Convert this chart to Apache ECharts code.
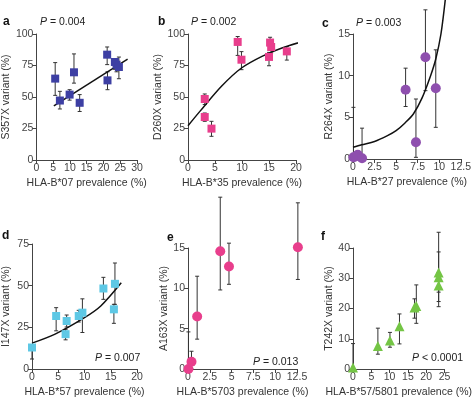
<!DOCTYPE html>
<html>
<head>
<meta charset="utf-8">
<script src="https://cdn.jsdelivr.net/npm/echarts@6/dist/echarts.min.js"></script>
<style>
  html, body { margin: 0; padding: 0; background: #fff; }
  #chart { width: 474px; height: 399px; }
</style>
</head>
<body>
<div id="chart"></div>
<script>
// panel a: S357X vs HLA-B*07
var aX = [5.6, 7.0, 9.9, 11.2, 12.9, 21.1, 21.2, 23.4, 23.9, 24.6];
var aY = [64.6, 47.2, 51.9, 69.6, 45.4, 83.6, 63.2, 77.8, 75.7, 73.8];
var aLo = [51.3, 40.5, 47.5, 61, 38.5, 75.7, 55.8, 72, 70, 64.5];
var aHi = [77.3, 54.5, 55.8, 84.2, 51.9, 89.7, 70, 79.6, 80, 81.7];
var aFitX = [5.2, 27.2];
var aFitY = [43, 80];

// panel b: D260X vs HLA-B*35
var bX = [3.1, 3.1, 4.35, 9.2, 9.9, 15.0, 15.2, 15.4, 18.3];
var bY = [48.4, 34.1, 24.9, 93.7, 79.6, 81.8, 93.2, 89.7, 86.2];
var bLo = [44, 30.7, 18.8, 83, 71.7, 74.8, 89, 85, 79.3];
var bHi = [52.4, 37.3, 30.7, 98, 86, 85.4, 97.4, 93, 90];
var bFitX = [0, 2.2, 6.2, 9.9, 13.7, 17.4, 22];
var bFitY = [27.2, 38.6, 58.5, 73, 82.3, 88.9, 95];

// panel c: R264X vs HLA-B*27
var cX = [0.05, 0.3, 0.55, 1.05, 6.1, 7.3, 8.4, 9.6];
var cY = [0.2, 0.3, 0.5, 0.1, 8.3, 2.0, 12.2, 8.5];
var cLo = [0, 0.3, 0.5, 0, 6.3, 0.2, 8.2, 3.8];
var cHi = [6.2, 0.3, 0.5, 3.7, 10.9, 7.2, 17.9, 13.1];
var cFitX = [0, 1, 2.5, 4, 5, 6, 7, 8, 9, 9.6, 10.2, 10.7];
var cFitY = [1.4, 1.7, 2.1, 2.8, 3.4, 4.3, 5.4, 7.3, 10, 12, 15, 19.1];

// panel d: I147X vs HLA-B*57
var dX = [0, 4.6, 6.4, 6.6, 8.9, 9.6, 13.6, 15.6, 15.8];
var dY = [12.9, 31.8, 20.9, 28.8, 31.8, 33.8, 48.3, 35.8, 51.1];
var dLo = [6, 22.9, 17.5, 25.2, 28.2, 21.9, 41.8, 27.4, 38.8];
var dHi = [12.9, 36.8, 23.8, 32.4, 35.2, 42.1, 55, 38.8, 63.6];
var dFitX = [0, 4.4, 10, 13.1, 17];
var dFitY = [15.5, 20.9, 30.8, 37.8, 51.7];

// panel e: A163X vs HLA-B*5703
var eX = [0.05, 0.4, 1.05, 3.7, 4.7, 12.6];
var eY = [0, 0.9, 6.5, 14.6, 12.7, 15.1];
var eLo = [0, 0, 3.7, 9.8, 10.5, 11.1];
var eHi = [4.6, 2.2, 11.5, 21.3, 15.6, 20.6];

// panel f: T242X vs HLA-B*57/5801
var fX = [0, 6.8, 10.1, 12.7, 16.8, 17.3, 23.4, 23.4, 23.4];
var fY = [0.5, 7.6, 9.4, 14.1, 20.3, 20.8, 31.9, 30.3, 27.6];
var fLo = [0, 4.9, 7.2, 8.3, 16.8, 15.1, 25.4, 22.3, 20.6];
var fHi = [8.4, 13.5, 12.1, 18.2, 23.2, 27.8, 45.2, 38.7, 31.9];

var FONT = 'Liberation Sans, Arial, Helvetica, sans-serif';

var panels = [
  {x: aX, y: aY, lo: aLo, hi: aHi, fx: aFitX, fy: aFitY, color: '#3d3fa3', symbol: 'rect', size: 8,
   grid: {left: 30, top: 34, width: 107, height: 126},
   xr: [0, 30, 5], yr: [0, 100, 25], xname: 'HLA-B*07 prevalence (%)', yname: 'S357X variant (%)', ygap: 22},
  {x: bX, y: bY, lo: bLo, hi: bHi, fx: bFitX, fy: bFitY, color: '#e83e8c', symbol: 'rect', size: 8,
   grid: {left: 188, top: 34, width: 108, height: 126},
   xr: [0, 20, 5], yr: [0, 100, 25], xname: 'HLA-B*35 prevalence (%)', yname: 'D260X variant (%)', ygap: 24},
  {x: cX, y: cY, lo: cLo, hi: cHi, fx: cFitX, fy: cFitY, color: '#8e4fae', symbol: 'circle', size: 10,
   grid: {left: 353, top: 34, width: 110, height: 125},
   xr: [0, 12.5, 2.5], yr: [0, 15, 5], xname: 'HLA-B*27 prevalence (%)', yname: 'R264X variant (%)', ygap: 13},
  {x: dX, y: dY, lo: dLo, hi: dHi, fx: dFitX, fy: dFitY, color: '#5ec8e5', symbol: 'rect', size: 8,
   grid: {left: 30, top: 244, width: 107, height: 126},
   xr: [0, 20, 5], yr: [0, 75, 25], xname: 'HLA-B*57 prevalence (%)', yname: 'I147X variant (%)', ygap: 20},
  {x: eX, y: eY, lo: eLo, hi: eHi, fx: null, fy: null, color: '#e83e8c', symbol: 'circle', size: 10,
   grid: {left: 188, top: 248, width: 109, height: 123},
   xr: [0, 12.5, 2.5], yr: [0, 15, 5], xname: 'HLA-B*5703 prevalence (%)', yname: 'A163X variant (%)', ygap: 18},
  {x: fX, y: fY, lo: fLo, hi: fHi, fx: null, fy: null, color: '#74c545', symbol: 'triangle', size: 10,
   grid: {left: 353, top: 248, width: 106, height: 124},
   xr: [0, 25, 5], yr: [0, 40, 10], xname: 'HLA-B*57/5801 prevalence (%)', yname: 'T242X variant (%)', ygap: 18}
];

function errRender(params, api) {
  var lo = api.coord([api.value(0), api.value(1)]);
  var hi = api.coord([api.value(0), api.value(2)]);
  if (Math.abs(lo[1] - hi[1]) < 0.5) return null;
  var c = 2;
  var st = {stroke: '#333', lineWidth: 1};
  return {
    type: 'group',
    children: [
      {type: 'line', shape: {x1: lo[0], y1: lo[1], x2: hi[0], y2: hi[1]}, style: st},
      {type: 'line', shape: {x1: lo[0] - c, y1: lo[1], x2: lo[0] + c, y2: lo[1]}, style: st},
      {type: 'line', shape: {x1: hi[0] - c, y1: hi[1], x2: hi[0] + c, y2: hi[1]}, style: st}
    ]
  };
}

var grids = [], xAxes = [], yAxes = [], series = [];
var axisCommon = {
  axisLine: {lineStyle: {color: '#444', width: 1}},
  axisTick: {length: 4, lineStyle: {color: '#444'}},
  axisLabel: {color: '#444', fontSize: 10.5, fontFamily: FONT, margin: 3},
  splitLine: {show: false},
  nameLocation: 'middle',
  nameTextStyle: {color: '#333', fontSize: 10.5, fontFamily: FONT}
};

panels.forEach(function (p, i) {
  grids.push(p.grid);
  xAxes.push(Object.assign({}, axisCommon, {
    type: 'value', gridIndex: i, min: p.xr[0], max: p.xr[1], interval: p.xr[2],
    name: p.xname, nameGap: 18
  }));
  yAxes.push(Object.assign({}, axisCommon, {
    type: 'value', gridIndex: i, min: p.yr[0], max: p.yr[1], interval: p.yr[2],
    name: p.yname, nameGap: p.ygap
  }));
  series.push({
    type: 'custom', xAxisIndex: i, yAxisIndex: i, renderItem: errRender, clip: false,
    encode: {x: 0, y: [1, 2]}, z: 1,
    data: p.x.map(function (v, k) { return [v, p.lo[k], p.hi[k]]; })
  });
  if (p.fx) {
    series.push({
      type: 'line', xAxisIndex: i, yAxisIndex: i, smooth: 0.3, symbol: 'none', clip: false,
      lineStyle: {color: '#111', width: 1.5}, z: 2,
      data: p.fx.map(function (v, k) { return [v, p.fy[k]]; })
    });
  }
  series.push({
    type: 'scatter', xAxisIndex: i, yAxisIndex: i, symbol: p.symbol, symbolSize: p.size, clip: false,
    itemStyle: {color: p.color, opacity: 1}, z: 3,
    data: p.x.map(function (v, k) { return [v, p.y[k]]; })
  });
});

var rich = {i: {fontStyle: 'italic', fontSize: 10.5, fontFamily: FONT, color: '#222'}};
function pText(txt, left, top) {
  return {text: '{i|P} ' + txt, left: left, top: top,
    textStyle: {fontSize: 10.5, fontWeight: 'normal', fontFamily: FONT, color: '#222', rich: rich}, padding: 0};
}
function letter(txt, left, top) {
  return {text: txt, left: left, top: top, padding: 0,
    textStyle: {fontSize: 12, fontWeight: 'bold', fontFamily: FONT, color: '#111'}};
}

var titles = [
  letter('a', 3, 16), pText('= 0.004', 40, 17),
  letter('b', 158, 16), pText('= 0.002', 191, 17),
  letter('c', 322, 18), pText('= 0.003', 356, 18),
  letter('d', 2, 230), pText('= 0.007', 95, 353),
  letter('e', 167, 232), pText('= 0.013', 253, 357),
  letter('f', 321, 231), pText('< 0.0001', 412, 353)
];

var chart = echarts.init(document.getElementById('chart'), null, {renderer: 'canvas'});
chart.setOption({
  animation: false,
  backgroundColor: '#fff',
  title: titles,
  grid: grids,
  xAxis: xAxes,
  yAxis: yAxes,
  series: series
});
</script>
</body>
</html>
